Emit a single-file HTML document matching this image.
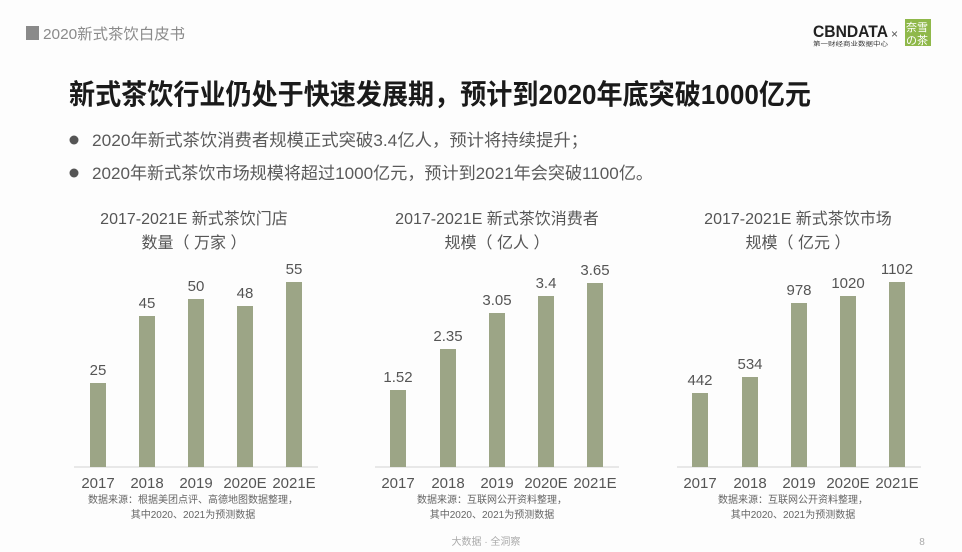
<!DOCTYPE html>
<html><head><meta charset="utf-8"><style>
html,body{margin:0;padding:0;background:#fdfdfd;}
svg{display:block;font-family:"Liberation Sans","Noto Sans CJK SC",sans-serif;}
</style></head><body>
<svg width="962" height="552" viewBox="0 0 962 552" xmlns="http://www.w3.org/2000/svg">
<rect width="962" height="552" fill="#fdfdfd"/>
<rect x="26" y="26" width="13" height="14" fill="#8a8a8a"/>
<text x="43" y="39" font-size="15" fill="#8a8a8a" textLength="142" lengthAdjust="spacingAndGlyphs">2020新式茶饮白皮书</text>
<text x="813" y="37" font-size="17" font-weight="bold" fill="#222" textLength="75" lengthAdjust="spacingAndGlyphs">CBNDATA</text>
<text x="813" y="46" font-size="6" fill="#333" textLength="75" lengthAdjust="spacingAndGlyphs">第一财经商业数据中心</text>
<text x="891" y="38" font-size="12" fill="#555">×</text>
<rect x="905" y="19" width="26" height="27" fill="#8fb84a"/>
<text x="906" y="31" font-size="11" fill="#fff">奈雪</text>
<text x="906" y="44" font-size="11" fill="#fff">の茶</text>
<text x="69" y="104" font-size="28" font-weight="bold" fill="#1a1a1a" textLength="742" lengthAdjust="spacingAndGlyphs">新式茶饮行业仍处于快速发展期，预计到2020年底突破1000亿元</text>
<circle cx="74" cy="140" r="4.5" fill="#555"/>
<text x="92" y="146" font-size="17" fill="#5a5a5a" textLength="496" lengthAdjust="spacingAndGlyphs">2020年新式茶饮消费者规模正式突破3.4亿人，预计将持续提升；</text>
<circle cx="74" cy="173" r="4.5" fill="#555"/>
<text x="92" y="179" font-size="17" fill="#5a5a5a" textLength="561" lengthAdjust="spacingAndGlyphs">2020年新式茶饮市场规模将超过1000亿元，预计到2021年会突破1100亿。</text>

<g font-size="16" fill="#555" text-anchor="middle">
<text x="194" y="224">2017-2021E 新式茶饮门店</text>
<text x="194" y="248">数量（ 万家 ）</text>
<text x="497" y="224">2017-2021E 新式茶饮消费者</text>
<text x="497" y="248">规模（ 亿人 ）</text>
<text x="798" y="224">2017-2021E 新式茶饮市场</text>
<text x="798" y="248">规模（ 亿元 ）</text>
</g>

<g stroke="#e2e2e2" stroke-width="1.5">
<line x1="74" y1="467" x2="318" y2="467"/>
<line x1="375" y1="467" x2="619" y2="467"/>
<line x1="677" y1="467" x2="921" y2="467"/>
</g>

<g fill="#9ca586">
<rect x="90" y="383" width="16" height="84"/>
<rect x="139" y="316" width="16" height="151"/>
<rect x="188" y="299" width="16" height="168"/>
<rect x="237" y="306" width="16" height="161"/>
<rect x="286" y="282" width="16" height="185"/>
<rect x="390" y="390" width="16" height="77"/>
<rect x="440" y="349" width="16" height="118"/>
<rect x="489" y="313" width="16" height="154"/>
<rect x="538" y="296" width="16" height="171"/>
<rect x="587" y="283" width="16" height="184"/>
<rect x="692" y="393" width="16" height="74"/>
<rect x="742" y="377" width="16" height="90"/>
<rect x="791" y="303" width="16" height="164"/>
<rect x="840" y="296" width="16" height="171"/>
<rect x="889" y="282" width="16" height="185"/>
</g>

<g font-size="15" fill="#555" text-anchor="middle">
<text x="98" y="375">25</text>
<text x="147" y="308">45</text>
<text x="196" y="291">50</text>
<text x="245" y="298">48</text>
<text x="294" y="274">55</text>
<text x="398" y="382">1.52</text>
<text x="448" y="341">2.35</text>
<text x="497" y="305">3.05</text>
<text x="546" y="288">3.4</text>
<text x="595" y="275">3.65</text>
<text x="700" y="385">442</text>
<text x="750" y="369">534</text>
<text x="799" y="295">978</text>
<text x="848" y="288">1020</text>
<text x="897" y="274">1102</text>
</g>

<g font-size="15" fill="#555" text-anchor="middle">
<text x="98" y="488">2017</text><text x="147" y="488">2018</text><text x="196" y="488">2019</text><text x="245" y="488">2020E</text><text x="294" y="488">2021E</text>
<text x="398" y="488">2017</text><text x="448" y="488">2018</text><text x="497" y="488">2019</text><text x="546" y="488">2020E</text><text x="595" y="488">2021E</text>
<text x="700" y="488">2017</text><text x="750" y="488">2018</text><text x="799" y="488">2019</text><text x="848" y="488">2020E</text><text x="897" y="488">2021E</text>
</g>

<g font-size="10" fill="#666" text-anchor="middle">
<text x="193" y="503">数据来源：根据美团点评、高德地图数据整理，</text>
<text x="193" y="518">其中2020、2021为预测数据</text>
<text x="492" y="503">数据来源：互联网公开资料整理，</text>
<text x="492" y="518">其中2020、2021为预测数据</text>
<text x="793" y="503">数据来源：互联网公开资料整理，</text>
<text x="793" y="518">其中2020、2021为预测数据</text>
</g>
<text x="486" y="545" font-size="10" fill="#aaa" text-anchor="middle">大数据 · 全洞察</text>
<text x="922" y="545" font-size="10" fill="#aaa" text-anchor="middle">8</text>
</svg>
</body></html>
